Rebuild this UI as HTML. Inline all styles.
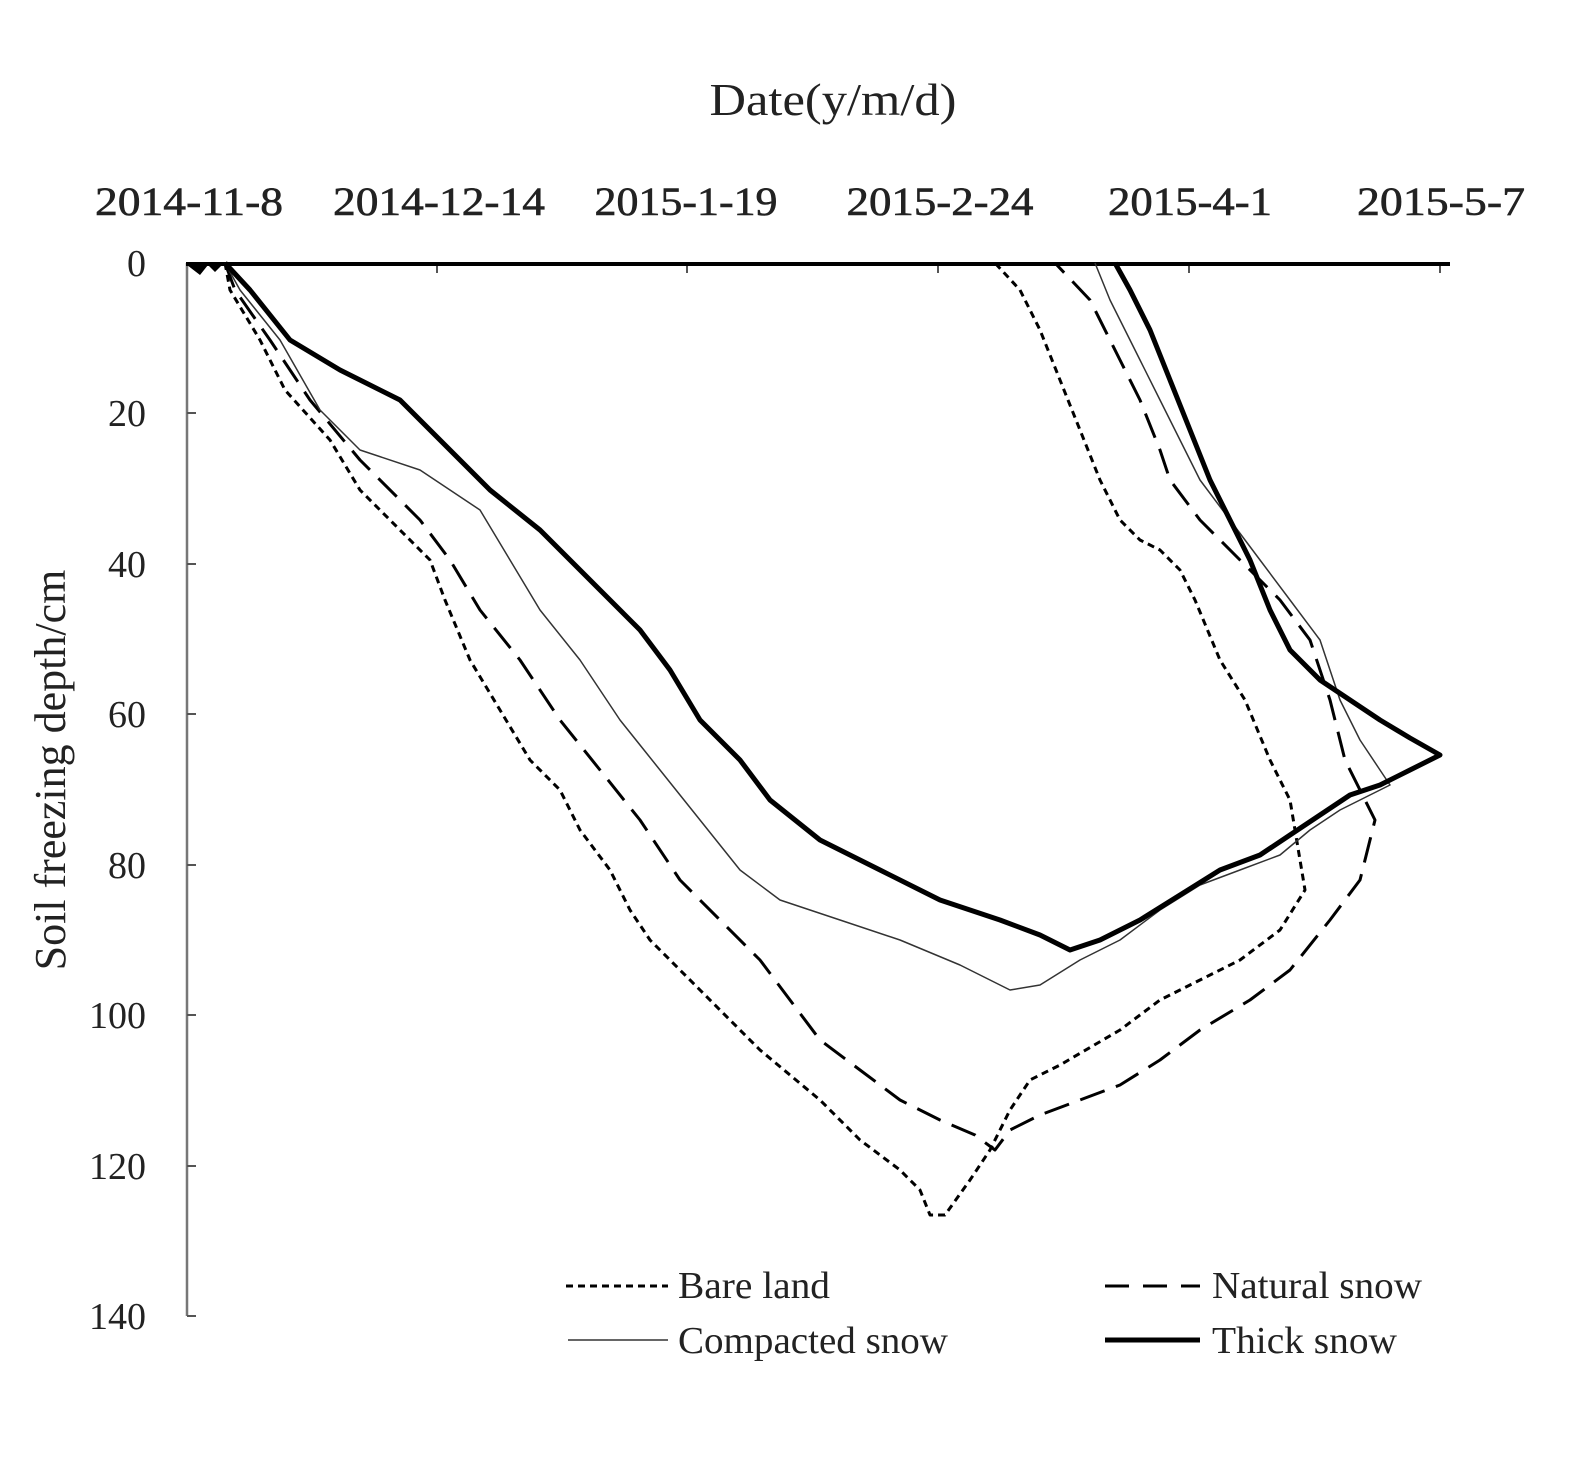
<!DOCTYPE html>
<html><head><style>html,body{margin:0;padding:0;background:#fff}svg{display:block}</style></head>
<body>
<svg width="1596" height="1471" viewBox="0 0 1596 1471" xmlns="http://www.w3.org/2000/svg" font-family="Liberation Serif, serif">
<rect width="1596" height="1471" fill="#fff"/>
<text x="833" y="115" font-size="46" text-anchor="middle" fill="#222" textLength="247" lengthAdjust="spacingAndGlyphs">Date(y/m/d)</text>
<g font-size="40" text-anchor="middle" fill="#222" stroke="#222" stroke-width="0.6" lengthAdjust="spacingAndGlyphs">
<text x="189" y="215" textLength="188" lengthAdjust="spacingAndGlyphs">2014-11-8</text>
<text x="439" y="215" textLength="212" lengthAdjust="spacingAndGlyphs">2014-12-14</text>
<text x="686" y="215" textLength="183" lengthAdjust="spacingAndGlyphs">2015-1-19</text>
<text x="940" y="215" textLength="187" lengthAdjust="spacingAndGlyphs">2015-2-24</text>
<text x="1190" y="215" textLength="164" lengthAdjust="spacingAndGlyphs">2015-4-1</text>
<text x="1441" y="215" textLength="168" lengthAdjust="spacingAndGlyphs">2015-5-7</text>
</g>
<g font-size="38" text-anchor="end" fill="#222">
<text x="146" y="276">0</text><text x="146" y="426">20</text><text x="146" y="577">40</text>
<text x="146" y="727">60</text><text x="146" y="878">80</text><text x="146" y="1028">100</text>
<text x="146" y="1179">120</text><text x="146" y="1329">140</text>
</g>
<text transform="translate(65,770) rotate(-90)" font-size="44" text-anchor="middle" fill="#222">Soil freezing depth/cm</text>
<line x1="187" y1="263" x2="187" y2="1316" stroke="#777" stroke-width="2.5"/>
<g stroke="#555" stroke-width="2">
<line x1="187" y1="413" x2="196" y2="413"/><line x1="187" y1="564" x2="196" y2="564"/>
<line x1="187" y1="714" x2="196" y2="714"/><line x1="187" y1="865" x2="196" y2="865"/>
<line x1="187" y1="1015" x2="196" y2="1015"/><line x1="187" y1="1166" x2="196" y2="1166"/>
<line x1="187" y1="1316" x2="196" y2="1316"/>
<line x1="437" y1="263" x2="437" y2="273"/><line x1="687" y1="263" x2="687" y2="273"/>
<line x1="938" y1="263" x2="938" y2="273"/><line x1="1189" y1="263" x2="1189" y2="273"/>
<line x1="1440" y1="263" x2="1440" y2="273"/>
</g>
<line x1="186" y1="264" x2="1450" y2="264" stroke="#000" stroke-width="4"/>
<path d="M187,265 L200,275 L208,265 L215,272 L222,265Z" fill="#000"/>
<g fill="none" stroke="#000" stroke-linejoin="round">
<polyline stroke-width="3" stroke-dasharray="7,5" points="225,263 230,290 260,340 285,390 330,440 360,490 400,530 430,560 445,600 470,660 500,710 530,760 560,790 580,830 610,870 630,910 650,940 700,990 760,1050 820,1100 860,1140 900,1170 920,1190 930,1215 945,1215 970,1180 990,1150 1010,1110 1030,1080 1060,1065 1120,1030 1160,1000 1200,980 1240,960 1280,930 1305,890 1300,860 1290,800 1270,760 1245,700 1220,660 1195,600 1180,570 1160,550 1140,540 1120,520 1100,480 1080,430 1060,380 1040,330 1020,290 995,263"/>
<polyline stroke-width="3" stroke-dasharray="26,12" points="225,263 235,290 270,340 310,400 360,460 420,520 450,560 480,610 520,660 560,720 600,770 640,820 680,880 720,920 760,960 790,1000 820,1040 860,1070 900,1100 940,1120 975,1135 995,1150 1010,1130 1040,1115 1080,1100 1120,1085 1160,1060 1200,1030 1250,1000 1290,970 1330,920 1360,880 1375,820 1365,800 1345,760 1330,700 1310,640 1280,600 1240,560 1200,520 1170,480 1160,450 1140,400 1120,360 1090,300 1055,263"/>
<polyline stroke-width="1.5" stroke="#333" points="225,263 240,290 280,340 320,410 360,450 420,470 480,510 510,560 540,610 580,660 620,720 660,770 700,820 740,870 780,900 840,920 900,940 960,965 1010,990 1040,985 1080,960 1120,940 1160,910 1200,885 1240,870 1280,855 1310,830 1340,810 1370,795 1390,785 1380,770 1360,740 1340,700 1320,640 1290,600 1260,560 1230,520 1200,480 1180,440 1160,400 1140,360 1110,300 1095,263"/>
<polyline stroke-width="5" points="225,263 250,290 290,340 340,370 400,400 440,440 490,490 540,530 590,580 640,630 670,670 700,720 740,760 770,800 820,840 880,870 940,900 1000,920 1040,935 1070,950 1100,940 1140,920 1180,895 1220,870 1260,855 1290,835 1320,815 1350,795 1380,785 1410,770 1440,755 1410,738 1380,720 1350,700 1320,680 1290,650 1270,610 1250,560 1230,520 1210,480 1190,430 1170,380 1150,330 1130,290 1115,263"/>
<line x1="566" y1="1286" x2="668" y2="1286" stroke-width="3" stroke-dasharray="7,5"/>
<line x1="568" y1="1340" x2="668" y2="1340" stroke-width="1.5" stroke="#333"/>
<line x1="1105" y1="1286" x2="1200" y2="1286" stroke-width="3" stroke-dasharray="24,14"/>
<line x1="1105" y1="1340" x2="1200" y2="1340" stroke-width="5"/>
</g>
<g font-size="38" fill="#222">
<text x="678" y="1298" textLength="152" lengthAdjust="spacingAndGlyphs">Bare land</text>
<text x="678" y="1353" textLength="270" lengthAdjust="spacingAndGlyphs">Compacted snow</text>
<text x="1212" y="1298" textLength="210" lengthAdjust="spacingAndGlyphs">Natural snow</text>
<text x="1212" y="1353" textLength="185" lengthAdjust="spacingAndGlyphs">Thick snow</text>
</g>
</svg>
</body></html>
